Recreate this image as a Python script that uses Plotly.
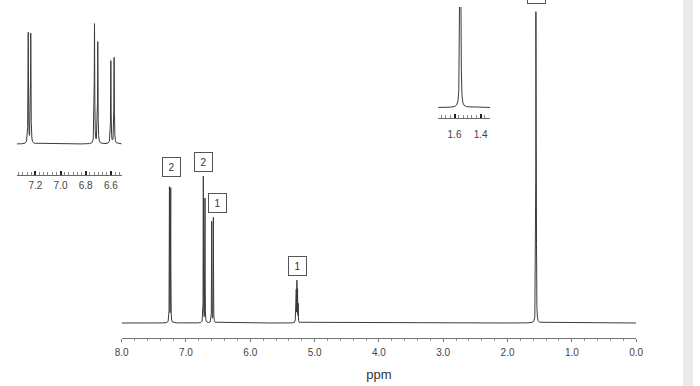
import numpy as np
import plotly.graph_objects as go

# ---- data: 1H NMR line list (ppm, height in main-plot units, half-width ppm)
peak_ppm    = [7.257, 7.237, 6.730, 6.704, 6.600, 6.574,
               5.295, 5.285, 5.275, 5.265, 5.255, 1.559, 1.553]
peak_height = [135, 134, 146, 124, 101, 105,
               18, 32, 40, 32, 18, 283, 283]
peak_hwhm   = [0.002, 0.002, 0.002, 0.002, 0.002, 0.002,
               0.002, 0.002, 0.002, 0.002, 0.002, 0.002, 0.002]

# integration labels
label_text = ["2", "2", "1", "1", "6"]
label_ppm  = [7.226, 6.723, 6.509, 5.259, 1.555]
label_y    = [156, 161, 120, 57, 323]

main_ticks  = [8.0, 7.0, 6.0, 5.0, 4.0, 3.0, 2.0, 1.0, 0.0]
inset1_ticks = [7.2, 7.0, 6.8, 6.6]
inset2_ticks = [1.6, 1.4]


def spectrum(lo, hi):
    base = np.linspace(lo, hi, 4000)
    dense = [np.arange(p - 0.06, p + 0.06, 0.0002) for p in peak_ppm]
    x = np.unique(np.concatenate([base] + dense))
    x = x[(x >= lo) & (x <= hi)]
    y = np.zeros_like(x)
    for p, h, g in zip(peak_ppm, peak_height, peak_hwhm):
        y += h / (1.0 + ((x - p) / g) ** 2)
    return x, y


W, H = 700, 386
LINE = "#3a3a3a"

fig = go.Figure()
xm, ym = spectrum(0.0, 8.0)
fig.add_trace(go.Scatter(x=xm, y=ym, mode="lines", line=dict(color=LINE, width=1),
                         xaxis="x", yaxis="y", hoverinfo="skip"))
x1, y1 = spectrum(6.514, 7.348)
fig.add_trace(go.Scatter(x=x1, y=y1, mode="lines", line=dict(color=LINE, width=1),
                         xaxis="x2", yaxis="y2", hoverinfo="skip"))
x2, y2 = spectrum(1.327, 1.725)
fig.add_trace(go.Scatter(x=x2, y=y2, mode="lines", line=dict(color=LINE, width=1),
                         xaxis="x3", yaxis="y3", hoverinfo="skip"))

anns = []
for t, p, yv in zip(label_text, label_ppm, label_y):
    anns.append(dict(x=p, y=yv, xref="x", yref="y", text=t, showarrow=False,
                     font=dict(size=10, color="#333", family="Liberation Sans, Arial"),
                     bordercolor="#555", borderwidth=1, borderpad=3,
                     width=11, height=12, bgcolor="white",
                     yshift=(6 if yv >= 323 else 0)))

tickfont = dict(size=10, color="#444", family="Liberation Sans, Arial")

fig.update_layout(
    width=W, height=H, autosize=False, margin=dict(l=0, r=0, t=0, b=0),
    paper_bgcolor="white", plot_bgcolor="rgba(0,0,0,0)", showlegend=False,
    font=dict(family="Liberation Sans, Arial", color="#444"),
    annotations=anns,
    shapes=[dict(type="rect", xref="paper", yref="paper", x0=690 / W, x1=1, y0=0, y1=1,
                 fillcolor="#e9e9ee", line=dict(width=0), layer="below")],
    xaxis=dict(domain=[117 / W, 642 / W], range=[8, 0], anchor="free", position=48 / H,
               showline=True, linecolor="#777", linewidth=1,
               tickmode="array", tickvals=main_ticks, ticktext=[f"{v:.1f}" for v in main_ticks],
               ticks="outside", ticklen=3, tickcolor="#777", tickwidth=1,
               minor=dict(dtick=0.2, tick0=0, ticks="outside", ticklen=2, tickcolor="#999"),
               showgrid=False, zeroline=False, tickfont=tickfont, ticklabelstandoff=2,
               title=dict(text="ppm", font=dict(size=13, color="#333"), standoff=12)),
    yaxis=dict(domain=[0, 1], range=[-63, 323], visible=False, anchor="x"),
    xaxis2=dict(domain=[10 / W, 117 / W], range=[7.348, 6.514], anchor="y2",
                showline=True, linecolor="#666", linewidth=1,
                tickmode="array", tickvals=inset1_ticks, ticktext=[f"{v:.1f}" for v in inset1_ticks],
                ticks="inside", ticklen=4, tickwidth=2, tickcolor="#222",
                minor=dict(dtick=0.2 / 6, tick0=0, ticks="inside", ticklen=3, tickcolor="#888", tickwidth=1),
                showgrid=False, zeroline=False, tickfont=tickfont, ticklabelstandoff=1),
    yaxis2=dict(domain=[211 / H, 1], range=[-37.8, 175.6], visible=False, anchor="x2"),
    xaxis3=dict(domain=[440 / W, 493 / W], range=[1.725, 1.327], anchor="y3",
                showline=True, linecolor="#666", linewidth=1,
                tickmode="array", tickvals=inset2_ticks, ticktext=[f"{v:.1f}" for v in inset2_ticks],
                ticks="inside", ticklen=4, tickwidth=2, tickcolor="#222",
                minor=dict(dtick=0.2 / 6, tick0=0, ticks="inside", ticklen=3, tickcolor="#888", tickwidth=1),
                showgrid=False, zeroline=False, tickfont=tickfont, ticklabelstandoff=7),
    yaxis3=dict(domain=[268 / H, 379 / H], range=[-12.8, 122.6], visible=False, anchor="x3"),
)

fig.write_html("out.html",
               config={"displayModeBar": False, "responsive": False},
               post_script="document.body.style.margin='0';document.body.style.overflow='hidden';")
